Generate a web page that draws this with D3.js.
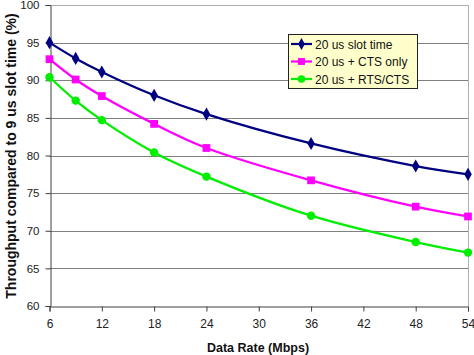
<!DOCTYPE html>
<html>
<head>
<meta charset="utf-8">
<script src="https://cdn.jsdelivr.net/npm/d3@7"></script>
<style>
  html, body { margin: 0; padding: 0; background: #fff; }
  svg { display: block; font-family: Arial, "Liberation Sans", sans-serif; }
</style>
</head>
<body>
<svg id="chart" width="474" height="355"></svg>
<script>
const dataRates = [6, 9, 12, 18, 24, 36, 48, 54];
const slotTime20 = [95.0, 92.9, 91.1, 88.0, 85.5, 81.6, 78.6, 77.5];
const ctsOnly20 = [92.8, 90.1, 87.9, 84.2, 81.0, 76.7, 73.2, 71.9];
const rtsCts20 = [90.4, 87.3, 84.7, 80.4, 77.2, 72.0, 68.5, 67.1];
const xTicks = [6, 12, 18, 24, 30, 36, 42, 48, 54];
const yTicks = [60, 65, 70, 75, 80, 85, 90, 95, 100];
const seriesNames = ["20 us slot time", "20 us + CTS only", "20 us + RTS/CTS"];

const series = [
  { name: seriesNames[0], values: slotTime20, color: "#000080", marker: d3.symbolDiamond, size: 50 },
  { name: seriesNames[1], values: ctsOnly20, color: "#ff00ff", marker: d3.symbolSquare, size: 60 },
  { name: seriesNames[2], values: rtsCts20, color: "#00ee00", marker: d3.symbolCircle, size: 55 }
];

const svg = d3.select("#chart");
const x = d3.scaleLinear().domain([6, 54]).range([49.5, 468]);
const y = d3.scaleLinear().domain([60, 100]).range([306, 5]);

// gridlines
svg.append("g").selectAll("line").data(yTicks.filter(d => d > 60)).join("line")
  .attr("x1", x(6)).attr("x2", x(54))
  .attr("y1", d => Math.round(y(d)) + 0.5).attr("y2", d => Math.round(y(d)) + 0.5)
  .attr("stroke", d => d === 100 ? "#b0b0b0" : "#808080").attr("stroke-width", 1);

// right border
svg.append("line")
  .attr("x1", Math.round(x(54)) + 0.5).attr("x2", Math.round(x(54)) + 0.5)
  .attr("y1", y(100)).attr("y2", y(60))
  .attr("stroke", "#b0b0b0");

// axes
const yAxis = d3.axisLeft(y).tickValues(yTicks).tickSize(5).tickPadding(6);
const gy = svg.append("g").attr("transform", `translate(${Math.round(x(6)) + 0.5},0)`).call(yAxis);
gy.select(".domain").attr("stroke", "#404040");
gy.selectAll(".tick line").attr("stroke", "#404040");
gy.selectAll("text").attr("font-size", "11.5px").attr("fill", "#222").style("font-family", "Arial, 'Liberation Sans', sans-serif");

const xAxis = d3.axisBottom(x).tickValues(xTicks).tickSize(5).tickPadding(8);
const gx = svg.append("g").attr("transform", `translate(0,${Math.round(y(60)) + 0.5})`).call(xAxis);
gx.select(".domain").attr("stroke", "#404040");
gx.selectAll(".tick line").attr("stroke", "#404040");
gx.selectAll("text").attr("font-size", "12px").attr("fill", "#222").style("font-family", "Arial, 'Liberation Sans', sans-serif");

// lines and markers
const line = d3.line().curve(d3.curveCatmullRom.alpha(0.5))
  .x((d, i) => x(dataRates[i])).y(d => y(d));

series.forEach(s => {
  svg.append("path").datum(s.values)
    .attr("d", line).attr("fill", "none")
    .attr("stroke", s.color).attr("stroke-width", 2.3);
  svg.append("g").selectAll("path").data(s.values).join("path")
    .attr("transform", (d, i) => `translate(${x(dataRates[i])},${y(d)})`)
    .attr("d", d3.symbol().type(s.marker).size(s.size))
    .attr("fill", s.color);
});

// axis titles
svg.append("text")
  .attr("x", 258).attr("y", 352)
  .attr("text-anchor", "middle")
  .attr("font-size", "12.5px").attr("font-weight", "bold").attr("fill", "#111")
  .text("Data Rate (Mbps)");

svg.append("text")
  .attr("transform", "translate(16,156) rotate(-90)")
  .attr("text-anchor", "middle")
  .attr("font-size", "14px").attr("font-weight", "bold").attr("fill", "#111")
  .text("Throughput compared to 9 us slot time (%)");

// legend
const lg = svg.append("g");
lg.append("rect")
  .attr("x", 288.5).attr("y", 34.5).attr("width", 129).attr("height", 54)
  .attr("fill", "#ffffcc").attr("stroke", "#222").attr("stroke-width", 1);
series.forEach((s, i) => {
  const yy = 44 + i * 17.5;
  lg.append("line").attr("x1", 291).attr("x2", 312).attr("y1", yy).attr("y2", yy)
    .attr("stroke", s.color).attr("stroke-width", 2.2);
  lg.append("path").attr("transform", `translate(301.5,${yy})`)
    .attr("d", d3.symbol().type(s.marker).size(s.size * 0.8)).attr("fill", s.color);
  lg.append("text").attr("x", 315).attr("y", yy + 4.5)
    .attr("font-size", "12px").attr("fill", "#111").text(s.name);
});
</script>
</body>
</html>
